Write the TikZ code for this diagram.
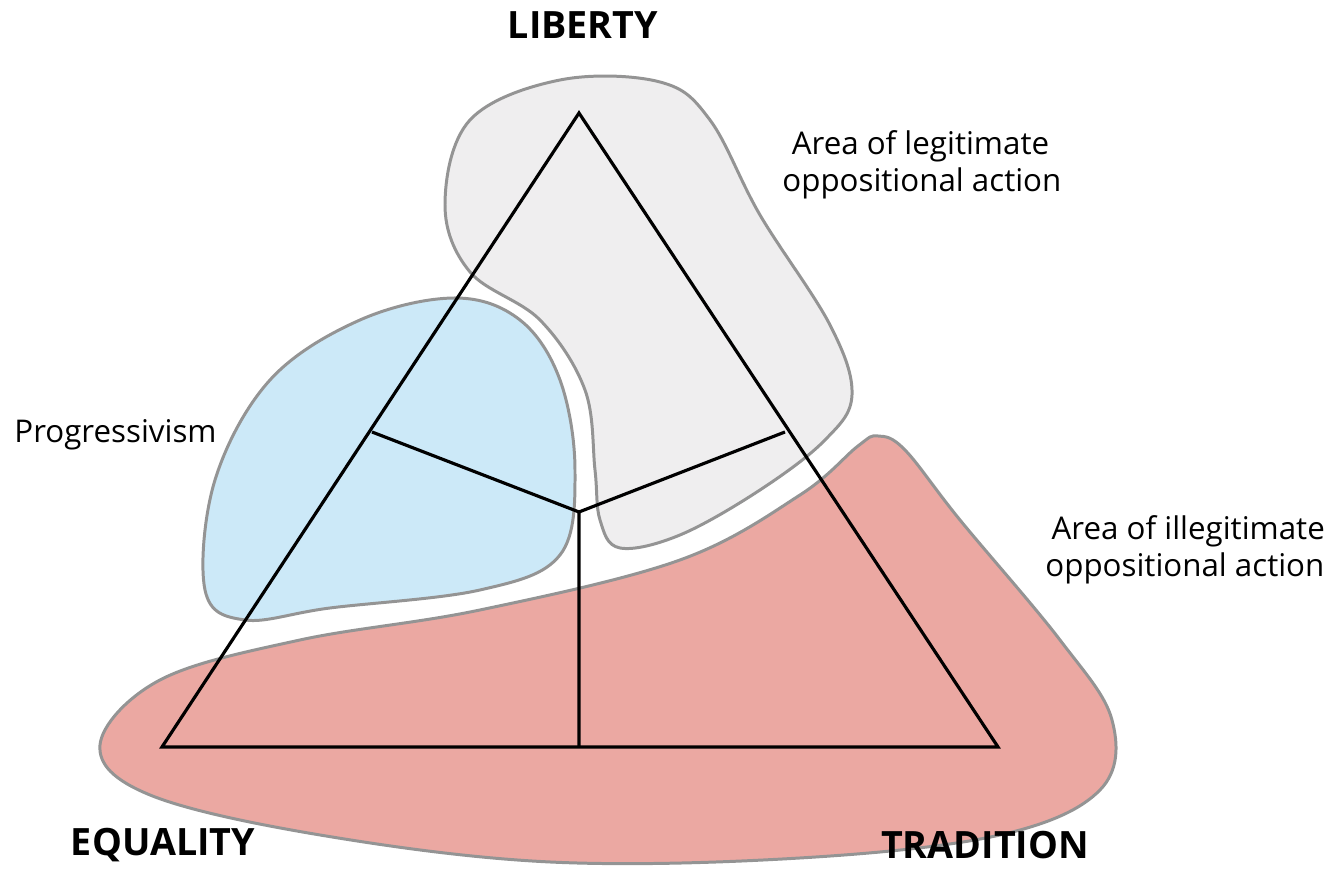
\documentclass[tikz,border=0pt]{standalone}
\usepackage{fontspec}
\setmainfont{Open Sans}
\begin{document}
\begin{tikzpicture}[x=0.01cm,y=-0.01cm,
  blob/.style={draw=black!42,line width=0.85pt},
  tri/.style={line width=0.9pt,line join=miter},
  big/.style={font=\fontsize{10.7}{12}\selectfont\bfseries},
  lab/.style={font=\fontsize{8.9}{10.5}\selectfont,align=left}]
\useasboundingbox (0,0) rectangle (1335,874);
\definecolor{gray1}{HTML}{EFEEEF}
\definecolor{blue1}{HTML}{CCE9F8}
\definecolor{red1}{HTML}{EBA8A2}
% red
\draw[blob,fill=red1] plot[smooth cycle,tension=0.6] coordinates{
 (878,436) (905,450) (960,520) (1060,640) (1112,720) (1100,790) (1000,835) (800,858) (550,862) (320,835) (150,795) (100,745) (160,680) (300,640) (480,610) (680,560) (800,495) (858,446)};
% gray
\draw[blob,fill=gray1] plot[smooth cycle,tension=0.6] coordinates{
 (470,272) (445,205) (470,120) (560,80) (660,82) (710,120) (760,215) (830,325) (852,395) (825,440) (760,490) (680,535) (620,548) (600,520) (595,470) (585,390) (540,320)};
% blue
\draw[blob,fill=blue1] plot[smooth cycle,tension=0.6] coordinates{
 (455,298) (520,320) (560,380) (575,470) (560,555) (480,590) (330,608) (245,620) (205,590) (215,480) (270,380) (360,320)};
% triangle
\coordinate (A) at (579,113);
\coordinate (B) at (162,747);
\coordinate (C) at (998,747);
\coordinate (O) at (579,512);
\coordinate (L) at (372,432);
\coordinate (R) at (785,432);
\coordinate (M) at (579,747);
\draw[tri] (A)--(B)--(C)--cycle;
\draw[tri] (L)--(O)--(R) (O)--(M);
\node[big] (lib) at (583,25) {LIBERTY};
\node[big] (eq) at (163,845) {EQUALITY};
\node[big] (tr) at (985,845) {TRADITION};
\node[lab,anchor=west] (pr) at (2,435) {Progressivism};
\node[lab,anchor=west] (leg) at (770,165) {\hspace*{0.3em}Area of legitimate\\oppositional action};
\node[lab,anchor=west] (ill) at (1033,550) {\hspace*{0.2em}Area of illegitimate\\oppositional action};
\end{tikzpicture}
\end{document}
